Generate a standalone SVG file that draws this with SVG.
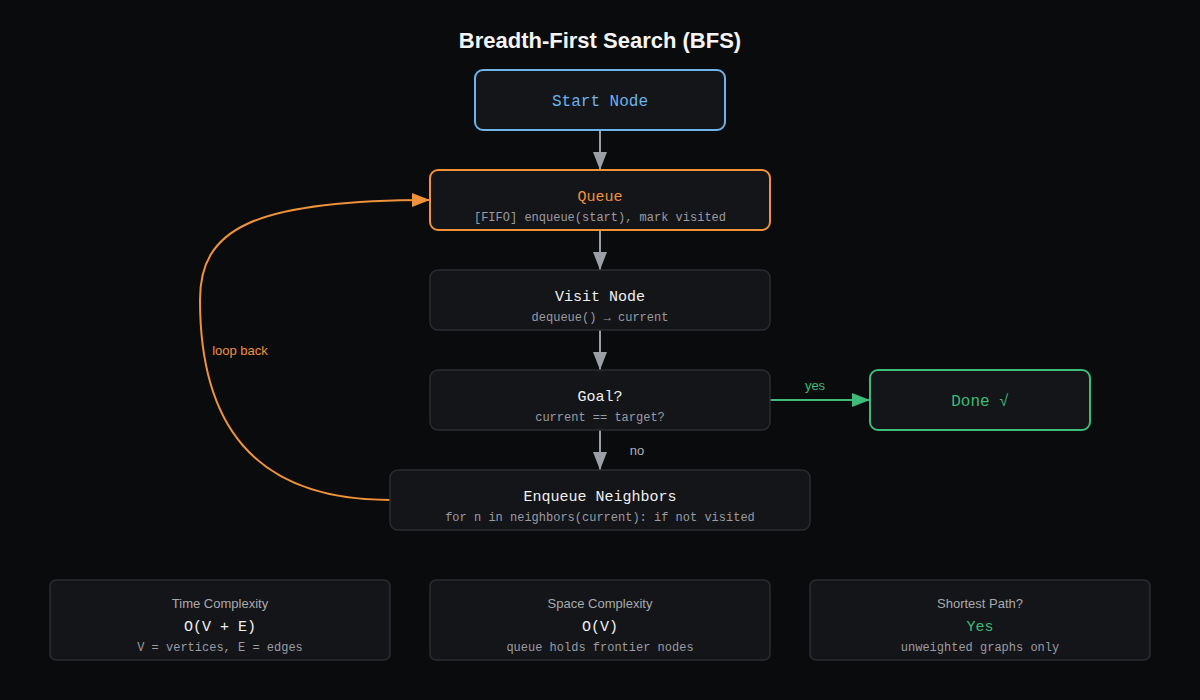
<svg xmlns="http://www.w3.org/2000/svg" width="1200" height="700" viewBox="0 0 1200 700">
<style>
.box{fill:#141519;stroke:#2a2c31;stroke-width:1.5}
.m{font-family:"Liberation Mono",monospace;text-anchor:middle}
.s{font-family:"Liberation Sans",Arial,sans-serif;text-anchor:middle}
.t{font-size:15px;fill:#f0f0f0}
.sub{font-size:12px;fill:#9a9ca2}
.e{stroke:#9ca0a6;stroke-width:2}
.h{fill:#9ca0a6}
</style>
<rect width="1200" height="700" fill="#0a0b0d"/>
<text x="600" y="48" class="s" font-size="22" font-weight="bold" fill="#f5f5f5">Breadth-First Search (BFS)</text>
<g id="connectors">
<path class="e" d="M600,130V170"/><path class="h" d="M593,152L600,170L607,152Z"/>
<path class="e" d="M600,230V270"/><path class="h" d="M593,252L600,270L607,252Z"/>
<path class="e" d="M600,330V370"/><path class="h" d="M593,352L600,370L607,352Z"/>
<path class="e" d="M600,430V470"/><path class="h" d="M593,452L600,470L607,452Z"/>
<text x="637" y="455" class="s" font-size="13" fill="#b0b2b6">no</text>
<path d="M770,400H870" stroke="#3dbb78" stroke-width="2"/><path d="M852,393L870,400L852,407Z" fill="#3dbb78"/>
<text x="815" y="390" class="s" font-size="13" fill="#3dbb78">yes</text>
<path d="M390,500C250,500 200,420 200,300C200,230 250,200 430,200" fill="none" stroke="#f0923a" stroke-width="2"/>
<path d="M412,193L430,200L412,207Z" fill="#f0923a"/>
<text x="240" y="355" class="s" font-size="13" fill="#f0923a">loop back</text>
</g>
<g id="start"><rect x="475" y="70" width="250" height="60" rx="8" fill="#141519" stroke="#6db3ec" stroke-width="2"/><text x="600" y="106" class="m" font-size="16" fill="#6db3ec">Start Node</text></g>
<g id="queue"><rect x="430" y="170" width="340" height="60" rx="8" fill="#141519" stroke="#f0923a" stroke-width="2"/><text x="600" y="201" class="m" font-size="15" fill="#f0923a">Queue</text><text x="600" y="221" class="m sub">[FIFO] enqueue(start), mark visited</text></g>
<g id="visit"><rect class="box" x="430" y="270" width="340" height="60" rx="8"/><text x="600" y="301" class="m t">Visit Node</text><text x="600" y="321" class="m sub">dequeue() → current</text></g>
<g id="goal"><rect class="box" x="430" y="370" width="340" height="60" rx="8"/><text x="600" y="401" class="m t">Goal?</text><text x="600" y="421" class="m sub">current == target?</text></g>
<g id="done"><rect x="870" y="370" width="220" height="60" rx="8" fill="#141519" stroke="#3dbb78" stroke-width="2"/><text x="980" y="406" class="m" font-size="16" fill="#3dbb78">Done √</text></g>
<g id="enqueue"><rect class="box" x="390" y="470" width="420" height="60" rx="8"/><text x="600" y="501" class="m t">Enqueue Neighbors</text><text x="600" y="521" class="m sub">for n in neighbors(current): if not visited</text></g>
<g id="time"><rect class="box" x="50" y="580" width="340" height="80" rx="6" stroke-width="1"/><text x="220" y="608" class="s" font-size="13" fill="#a8aaae">Time Complexity</text><text x="220" y="631" class="m" font-size="15" fill="#f0f0f0">O(V + E)</text><text x="220" y="651" class="m sub">V = vertices, E = edges</text></g>
<g id="space"><rect class="box" x="430" y="580" width="340" height="80" rx="6" stroke-width="1"/><text x="600" y="608" class="s" font-size="13" fill="#a8aaae">Space Complexity</text><text x="600" y="631" class="m" font-size="15" fill="#f0f0f0">O(V)</text><text x="600" y="651" class="m sub">queue holds frontier nodes</text></g>
<g id="path"><rect class="box" x="810" y="580" width="340" height="80" rx="6" stroke-width="1"/><text x="980" y="608" class="s" font-size="13" fill="#a8aaae">Shortest Path?</text><text x="980" y="631" class="m" font-size="15" fill="#3dbb78">Yes</text><text x="980" y="651" class="m sub">unweighted graphs only</text></g>
</svg>
